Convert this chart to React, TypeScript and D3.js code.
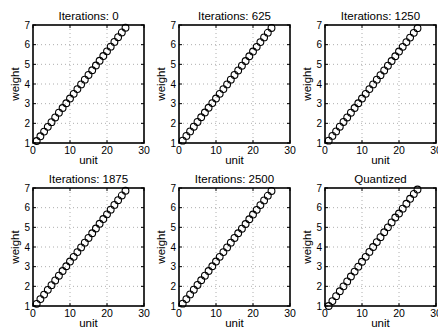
import React from 'react';
import * as d3 from 'd3';

// panel titles
const titles = ['Iterations: 0', 'Iterations: 625', 'Iterations: 1250', 'Iterations: 1875', 'Iterations: 2500', 'Quantized'];

// unit index on x
const units = [1, 2, 3, 4, 5, 6, 7, 8, 9, 10, 11, 12, 13, 14, 15, 16, 17, 18, 19, 20, 21, 22, 23, 24, 25];

// weights
const w0 = [1.10, 1.34, 1.58, 1.82, 2.06, 2.30, 2.54, 2.78, 3.02, 3.26, 3.50, 3.74, 3.98, 4.22, 4.46, 4.70, 4.94, 5.18, 5.42, 5.66, 5.90, 6.14, 6.38, 6.62, 6.86];
const w625 = [1.12, 1.36, 1.59, 1.83, 2.07, 2.31, 2.55, 2.79, 3.03, 3.26, 3.50, 3.74, 3.98, 4.22, 4.46, 4.69, 4.93, 5.17, 5.41, 5.65, 5.89, 6.13, 6.37, 6.61, 6.85];
const w1250 = [1.12, 1.36, 1.59, 1.83, 2.07, 2.30, 2.54, 2.78, 3.02, 3.26, 3.50, 3.74, 3.98, 4.22, 4.45, 4.69, 4.93, 5.17, 5.41, 5.65, 5.89, 6.13, 6.36, 6.60, 6.84];
const w1875 = [1.11, 1.35, 1.58, 1.82, 2.06, 2.30, 2.54, 2.78, 3.02, 3.26, 3.50, 3.74, 3.98, 4.22, 4.46, 4.70, 4.94, 5.18, 5.42, 5.66, 5.90, 6.14, 6.38, 6.62, 6.86];
const w2500 = [1.12, 1.35, 1.59, 1.83, 2.07, 2.31, 2.54, 2.78, 3.02, 3.26, 3.50, 3.74, 3.98, 4.22, 4.46, 4.70, 4.93, 5.17, 5.41, 5.65, 5.89, 6.13, 6.37, 6.61, 6.85];
const wQuant = [1.00, 1.25, 1.50, 1.75, 2.00, 2.25, 2.50, 2.75, 3.00, 3.25, 3.50, 3.75, 4.00, 4.25, 4.50, 4.75, 5.00, 5.25, 5.50, 5.70, 5.95, 6.20, 6.45, 6.70, 6.92];
const series = [w0, w625, w1250, w1875, w2500, wQuant];

const xTicks = [0, 10, 20, 30];
const yTicks = [1, 2, 3, 4, 5, 6, 7];

const colX = [33, 179, 325];
const rowY = [25, 188];
const pw = 111;
const ph = 118;
const font = 'Liberation Sans, Arial, Helvetica, sans-serif';

const Panel = ({ left, top, title, values }) => {
    const x = d3.scaleLinear().domain([0, 30]).range([0, pw]);
    const y = d3.scaleLinear().domain([1, 7]).range([ph, 0]);
    return (
        <g transform={`translate(${left},${top})`}>
            <rect x={0} y={0} width={pw} height={ph} fill="#fff" />
            {/* dotted grid */}
            {xTicks.slice(1, -1).map(t => (
                <line key={'gx' + t} x1={x(t)} x2={x(t)} y1={0} y2={ph} stroke="#999" strokeWidth={0.8} strokeDasharray="1,3" />
            ))}
            {yTicks.slice(1, -1).map(t => (
                <line key={'gy' + t} x1={0} x2={pw} y1={y(t)} y2={y(t)} stroke="#999" strokeWidth={0.8} strokeDasharray="1,3" />
            ))}
            {/* inward ticks */}
            {xTicks.map(t => (
                <g key={'tx' + t}>
                    <line x1={x(t)} x2={x(t)} y1={ph} y2={ph - 3} stroke="#000" />
                    <line x1={x(t)} x2={x(t)} y1={0} y2={3} stroke="#000" />
                    <text x={x(t)} y={ph + 11} textAnchor="middle" fontSize={10.5} fontFamily={font}>{t}</text>
                </g>
            ))}
            {yTicks.map(t => (
                <g key={'ty' + t}>
                    <line x1={0} x2={3} y1={y(t)} y2={y(t)} stroke="#000" />
                    <line x1={pw} x2={pw - 3} y1={y(t)} y2={y(t)} stroke="#000" />
                    <text x={-3} y={y(t) + 3.5} textAnchor="end" fontSize={10} fontFamily={font}>{t}</text>
                </g>
            ))}
            {values.map((v, i) => (
                <circle key={i} cx={x(units[i])} cy={y(v)} r={3.4} fill="none" stroke="#000" strokeWidth={1.1} />
            ))}
            <rect x={0} y={0} width={pw} height={ph} fill="none" stroke="#000" strokeWidth={1.6} />
            <text x={pw / 2} y={-5} textAnchor="middle" fontSize={11.5} fontFamily={font}>{title}</text>
            <text x={pw / 2} y={ph + 21} textAnchor="middle" fontSize={11.5} fontFamily={font}>unit</text>
            <text transform={`translate(${-14},${ph / 2}) rotate(-90)`} textAnchor="middle" fontSize={11.5} fontFamily={font}>weight</text>
        </g>
    );
};

export default function App() {
    return (
        <svg width={438} height={329} style={{ position: 'absolute', left: 0, top: 0, background: '#fff' }}>
            {titles.map((t, i) => (
                <Panel key={i} left={colX[i % 3]} top={rowY[Math.floor(i / 3)]} title={t} values={series[i]} />
            ))}
        </svg>
    );
}
